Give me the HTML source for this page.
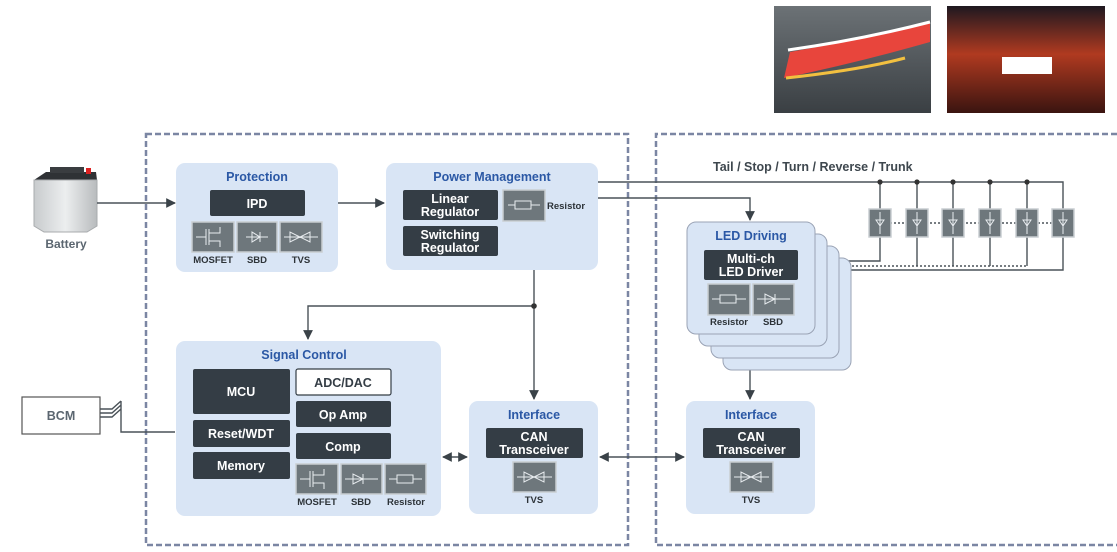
<!DOCTYPE html>
<html><head><meta charset="utf-8"><style>
body{margin:0;background:#fff}
svg{display:block;font-family:"Liberation Sans",Arial,sans-serif}
.t{fill:#2b58a5;font-weight:bold;font-size:12.5px;text-anchor:middle}
.d{fill:#343d45}
.w{fill:#fff;font-weight:bold;font-size:12.5px;text-anchor:middle}
.l{fill:#2d3338;font-weight:bold;font-size:9.5px;text-anchor:middle}
.ln{stroke:#4a5258;stroke-width:1.4;fill:none}
.bx{fill:#d9e5f5}
.ic{fill:#6e777c;stroke:#c9ced2;stroke-width:1.5}
.is{stroke:#e8ecef;stroke-width:1;fill:none}
</style></head><body>
<svg width="1117" height="552" viewBox="0 0 1117 552">
<defs>
<marker id="a" viewBox="0 0 10 10" refX="9" refY="5" markerWidth="7" markerHeight="7" orient="auto-start-reverse"><path d="M0,0L10,5L0,10z" fill="#3a4248"/></marker>
<linearGradient id="p1" x1="0" y1="0" x2="0" y2="1"><stop offset="0" stop-color="#6c7276"/><stop offset="1" stop-color="#3a3f43"/></linearGradient>
<linearGradient id="p2" x1="0" y1="0" x2="0" y2="1"><stop offset="0" stop-color="#1e1820"/><stop offset="0.45" stop-color="#b03a20"/><stop offset="1" stop-color="#3a1410"/></linearGradient>
<linearGradient id="bt" x1="0" y1="0" x2="1" y2="0"><stop offset="0" stop-color="#c8cbcd"/><stop offset="0.5" stop-color="#eceeef"/><stop offset="1" stop-color="#b8bbbd"/></linearGradient>
</defs>
<!-- photos -->
<rect x="774" y="6" width="157" height="107" fill="url(#p1)"/>
<path d="M790 52 Q860 40 930 22 L930 42 Q860 62 784 78 Z" fill="#e8453c"/>
<path d="M788 50 Q860 40 930 22" stroke="#fff" stroke-width="3" fill="none"/>
<path d="M786 78 Q860 70 905 58" stroke="#f2c040" stroke-width="3" fill="none"/>
<rect x="947" y="6" width="158" height="107" fill="url(#p2)"/>
<rect x="1002" y="57" width="50" height="17" fill="#fff"/>
<!-- dashed frames -->
<g stroke="#7b86a3" stroke-width="2.5" stroke-dasharray="6,3" fill="none">
<rect x="146" y="134" width="482" height="411"/>
<path d="M1117 134 H656 V545 H1117"/>
</g>
<!-- battery -->
<path d="M34 180 L46 172 L96 172 L97 180 Z" fill="#2f3235"/>
<rect x="50" y="167" width="34" height="6" fill="#3a3d40"/>
<rect x="86" y="168" width="5" height="6" fill="#d22"/>
<path d="M34 180 H97 V226 L87 232 H44 L34 226 Z" fill="url(#bt)" stroke="#a8abad"/>
<text x="66" y="248" font-size="12" font-weight="bold" fill="#5b6670" text-anchor="middle">Battery</text>
<!-- BCM -->
<rect x="22" y="397" width="78" height="37" fill="#fff" stroke="#555" stroke-width="1.2"/>
<text x="61" y="420" font-size="12.5" font-weight="bold" fill="#5b6670" text-anchor="middle">BCM</text>
<path class="ln" d="M100 409 H112 L121 401 M100 413 H112 L121 405 M100 417 H112 L121 409 M121 401 V432 H175"/>
<!-- connectors -->
<path class="ln" d="M97 203 H175" marker-end="url(#a)"/>
<path class="ln" d="M338 203 H384" marker-end="url(#a)"/>
<path class="ln" d="M598 182 H1063 V209"/>
<path class="ln" d="M598 198 H750 V220" marker-end="url(#a)"/>
<path class="ln" d="M534 270 V399" marker-end="url(#a)"/>
<path class="ln" d="M534 306 H308 V339" marker-end="url(#a)"/>
<circle cx="534" cy="306" r="2.8" fill="#333"/>
<path class="ln" d="M443 457 H467" marker-start="url(#a)" marker-end="url(#a)"/>
<path class="ln" d="M600 457 H684" marker-start="url(#a)" marker-end="url(#a)"/>
<path class="ln" d="M750 336 V399" marker-start="url(#a)" marker-end="url(#a)"/>
<!-- LED strings -->
<g class="ln">
<path d="M880 182 V261 H816 M917 182 V266 M953 182 V266 M990 182 V266 M1027 182 V266 M1063 237 V270 H816"/>
</g>
<path d="M816 266 H1027" stroke="#4a5258" stroke-width="1.4" stroke-dasharray="2,2"/>
<path d="M890 223 H1055" stroke="#4a5258" stroke-width="1.4" stroke-dasharray="2,2"/>
<g fill="#333"><circle cx="880" cy="182" r="2.6"/><circle cx="917" cy="182" r="2.6"/><circle cx="953" cy="182" r="2.6"/><circle cx="990" cy="182" r="2.6"/><circle cx="1027" cy="182" r="2.6"/></g>
<g>
<rect class="ic" x="869" y="209" width="22" height="28"/><rect class="ic" x="906" y="209" width="22" height="28"/><rect class="ic" x="942" y="209" width="22" height="28"/><rect class="ic" x="979" y="209" width="22" height="28"/><rect class="ic" x="1016" y="209" width="22" height="28"/><rect class="ic" x="1052" y="209" width="22" height="28"/>
</g>
<g class="is"><path d="M880 212V234M876 220H884L880 226ZM917 212V234M913 220H921L917 226ZM953 212V234M949 220H957L953 226ZM990 212V234M986 220H994L990 226ZM1027 212V234M1023 220H1031L1027 226ZM1063 212V234M1059 220H1067L1063 226Z"/></g>
<text x="713" y="171" font-size="12.5" font-weight="bold" fill="#3e474e">Tail / Stop / Turn / Reverse / Trunk</text>
<!-- Protection -->
<rect class="bx" x="176" y="163" width="162" height="109" rx="9"/>
<text class="t" x="257" y="181">Protection</text>
<rect class="d" x="210" y="190" width="95" height="26" rx="2"/><text class="w" x="257" y="208">IPD</text>
<rect class="ic" x="192" y="222" width="42" height="30"/><rect class="ic" x="237" y="222" width="40" height="30"/><rect class="ic" x="280" y="222" width="42" height="30"/>
<g class="is"><path d="M196 237H206M206 229V245M209 229V245M209 233H220V227M209 241H220V247M246 237H268M252 232V242L260 237Z M260 232V242M284 237H318M290 232V242L300 237ZM310 232V242L300 237Z"/></g>
<text class="l" x="213" y="263">MOSFET</text><text class="l" x="257" y="263">SBD</text><text class="l" x="301" y="263">TVS</text>
<!-- Power Management -->
<rect class="bx" x="386" y="163" width="212" height="107" rx="9"/>
<text class="t" x="492" y="181">Power Management</text>
<rect class="d" x="403" y="190" width="95" height="30" rx="2"/><text class="w" x="450" y="203">Linear</text><text class="w" x="450" y="216">Regulator</text>
<rect class="d" x="403" y="226" width="95" height="30" rx="2"/><text class="w" x="450" y="239">Switching</text><text class="w" x="450" y="252">Regulator</text>
<rect class="ic" x="503" y="190" width="42" height="31"/><g class="is"><path d="M508 205H515M531 205H540"/><rect x="515" y="201" width="16" height="8"/></g>
<text class="l" x="547" y="209" style="text-anchor:start">Resistor</text>
<!-- LED driving stack -->
<g fill="#d9e5f5" stroke="#9aa3b5" stroke-width="1">
<rect x="723" y="258" width="128" height="112" rx="9"/>
<rect x="711" y="246" width="128" height="112" rx="9"/>
<rect x="699" y="234" width="128" height="112" rx="9"/>
<rect x="687" y="222" width="128" height="112" rx="9"/>
</g>
<text class="t" x="751" y="240">LED Driving</text>
<rect class="d" x="704" y="250" width="94" height="30" rx="2"/><text class="w" x="751" y="263">Multi-ch</text><text class="w" x="751" y="276">LED Driver</text>
<rect class="ic" x="708" y="284" width="42" height="31"/><g class="is"><path d="M712 299H720M736 299H746"/><rect x="720" y="295" width="16" height="8"/></g>
<rect class="ic" x="753" y="284" width="41" height="31"/><g class="is"><path d="M757 299H790M765 294V304L775 299Z M775 294V304"/></g>
<text class="l" x="729" y="325">Resistor</text><text class="l" x="773" y="325">SBD</text>
<!-- Signal Control -->
<rect class="bx" x="176" y="341" width="265" height="175" rx="9"/>
<text class="t" x="304" y="359">Signal Control</text>
<rect class="d" x="193" y="369" width="97" height="45" rx="2"/><text class="w" x="241" y="396">MCU</text>
<rect class="d" x="193" y="420" width="97" height="27" rx="2"/><text class="w" x="241" y="438">Reset/WDT</text>
<rect class="d" x="193" y="452" width="97" height="27" rx="2"/><text class="w" x="241" y="470">Memory</text>
<rect x="296" y="369" width="95" height="26" rx="2" fill="#fff" stroke="#343d45" stroke-width="1.2"/><text x="343" y="387" font-size="12.5" font-weight="bold" fill="#343d45" text-anchor="middle">ADC/DAC</text>
<rect class="d" x="296" y="401" width="95" height="26" rx="2"/><text class="w" x="343" y="419">Op Amp</text>
<rect class="d" x="296" y="433" width="95" height="26" rx="2"/><text class="w" x="343" y="451">Comp</text>
<rect class="ic" x="296" y="464" width="42" height="30"/><rect class="ic" x="341" y="464" width="41" height="30"/><rect class="ic" x="385" y="464" width="41" height="30"/>
<g class="is"><path d="M300 479H310M310 471V487M313 471V487M313 475H324V469M313 483H324V489M345 479H378M353 474V484L363 479ZM363 474V484M389 479H397M413 479H422"/><rect x="397" y="475" width="16" height="8"/></g>
<text class="l" x="317" y="505">MOSFET</text><text class="l" x="361" y="505">SBD</text><text class="l" x="406" y="505">Resistor</text>
<!-- Interface 1 -->
<rect class="bx" x="469" y="401" width="129" height="113" rx="9"/>
<text class="t" x="534" y="419">Interface</text>
<rect class="d" x="486" y="428" width="97" height="30" rx="2"/><text class="w" x="534" y="441">CAN</text><text class="w" x="534" y="454">Transceiver</text>
<rect class="ic" x="513" y="462" width="43" height="30"/><g class="is"><path d="M517 477H552M524 472V482L534 477ZM544 472V482L534 477Z"/></g>
<text class="l" x="534" y="503">TVS</text>
<!-- Interface 2 -->
<rect class="bx" x="686" y="401" width="129" height="113" rx="9"/>
<text class="t" x="751" y="419">Interface</text>
<rect class="d" x="703" y="428" width="97" height="30" rx="2"/><text class="w" x="751" y="441">CAN</text><text class="w" x="751" y="454">Transceiver</text>
<rect class="ic" x="730" y="462" width="43" height="30"/><g class="is"><path d="M734 477H769M741 472V482L751 477ZM761 472V482L751 477Z"/></g>
<text class="l" x="751" y="503">TVS</text>
</svg>
</body></html>
